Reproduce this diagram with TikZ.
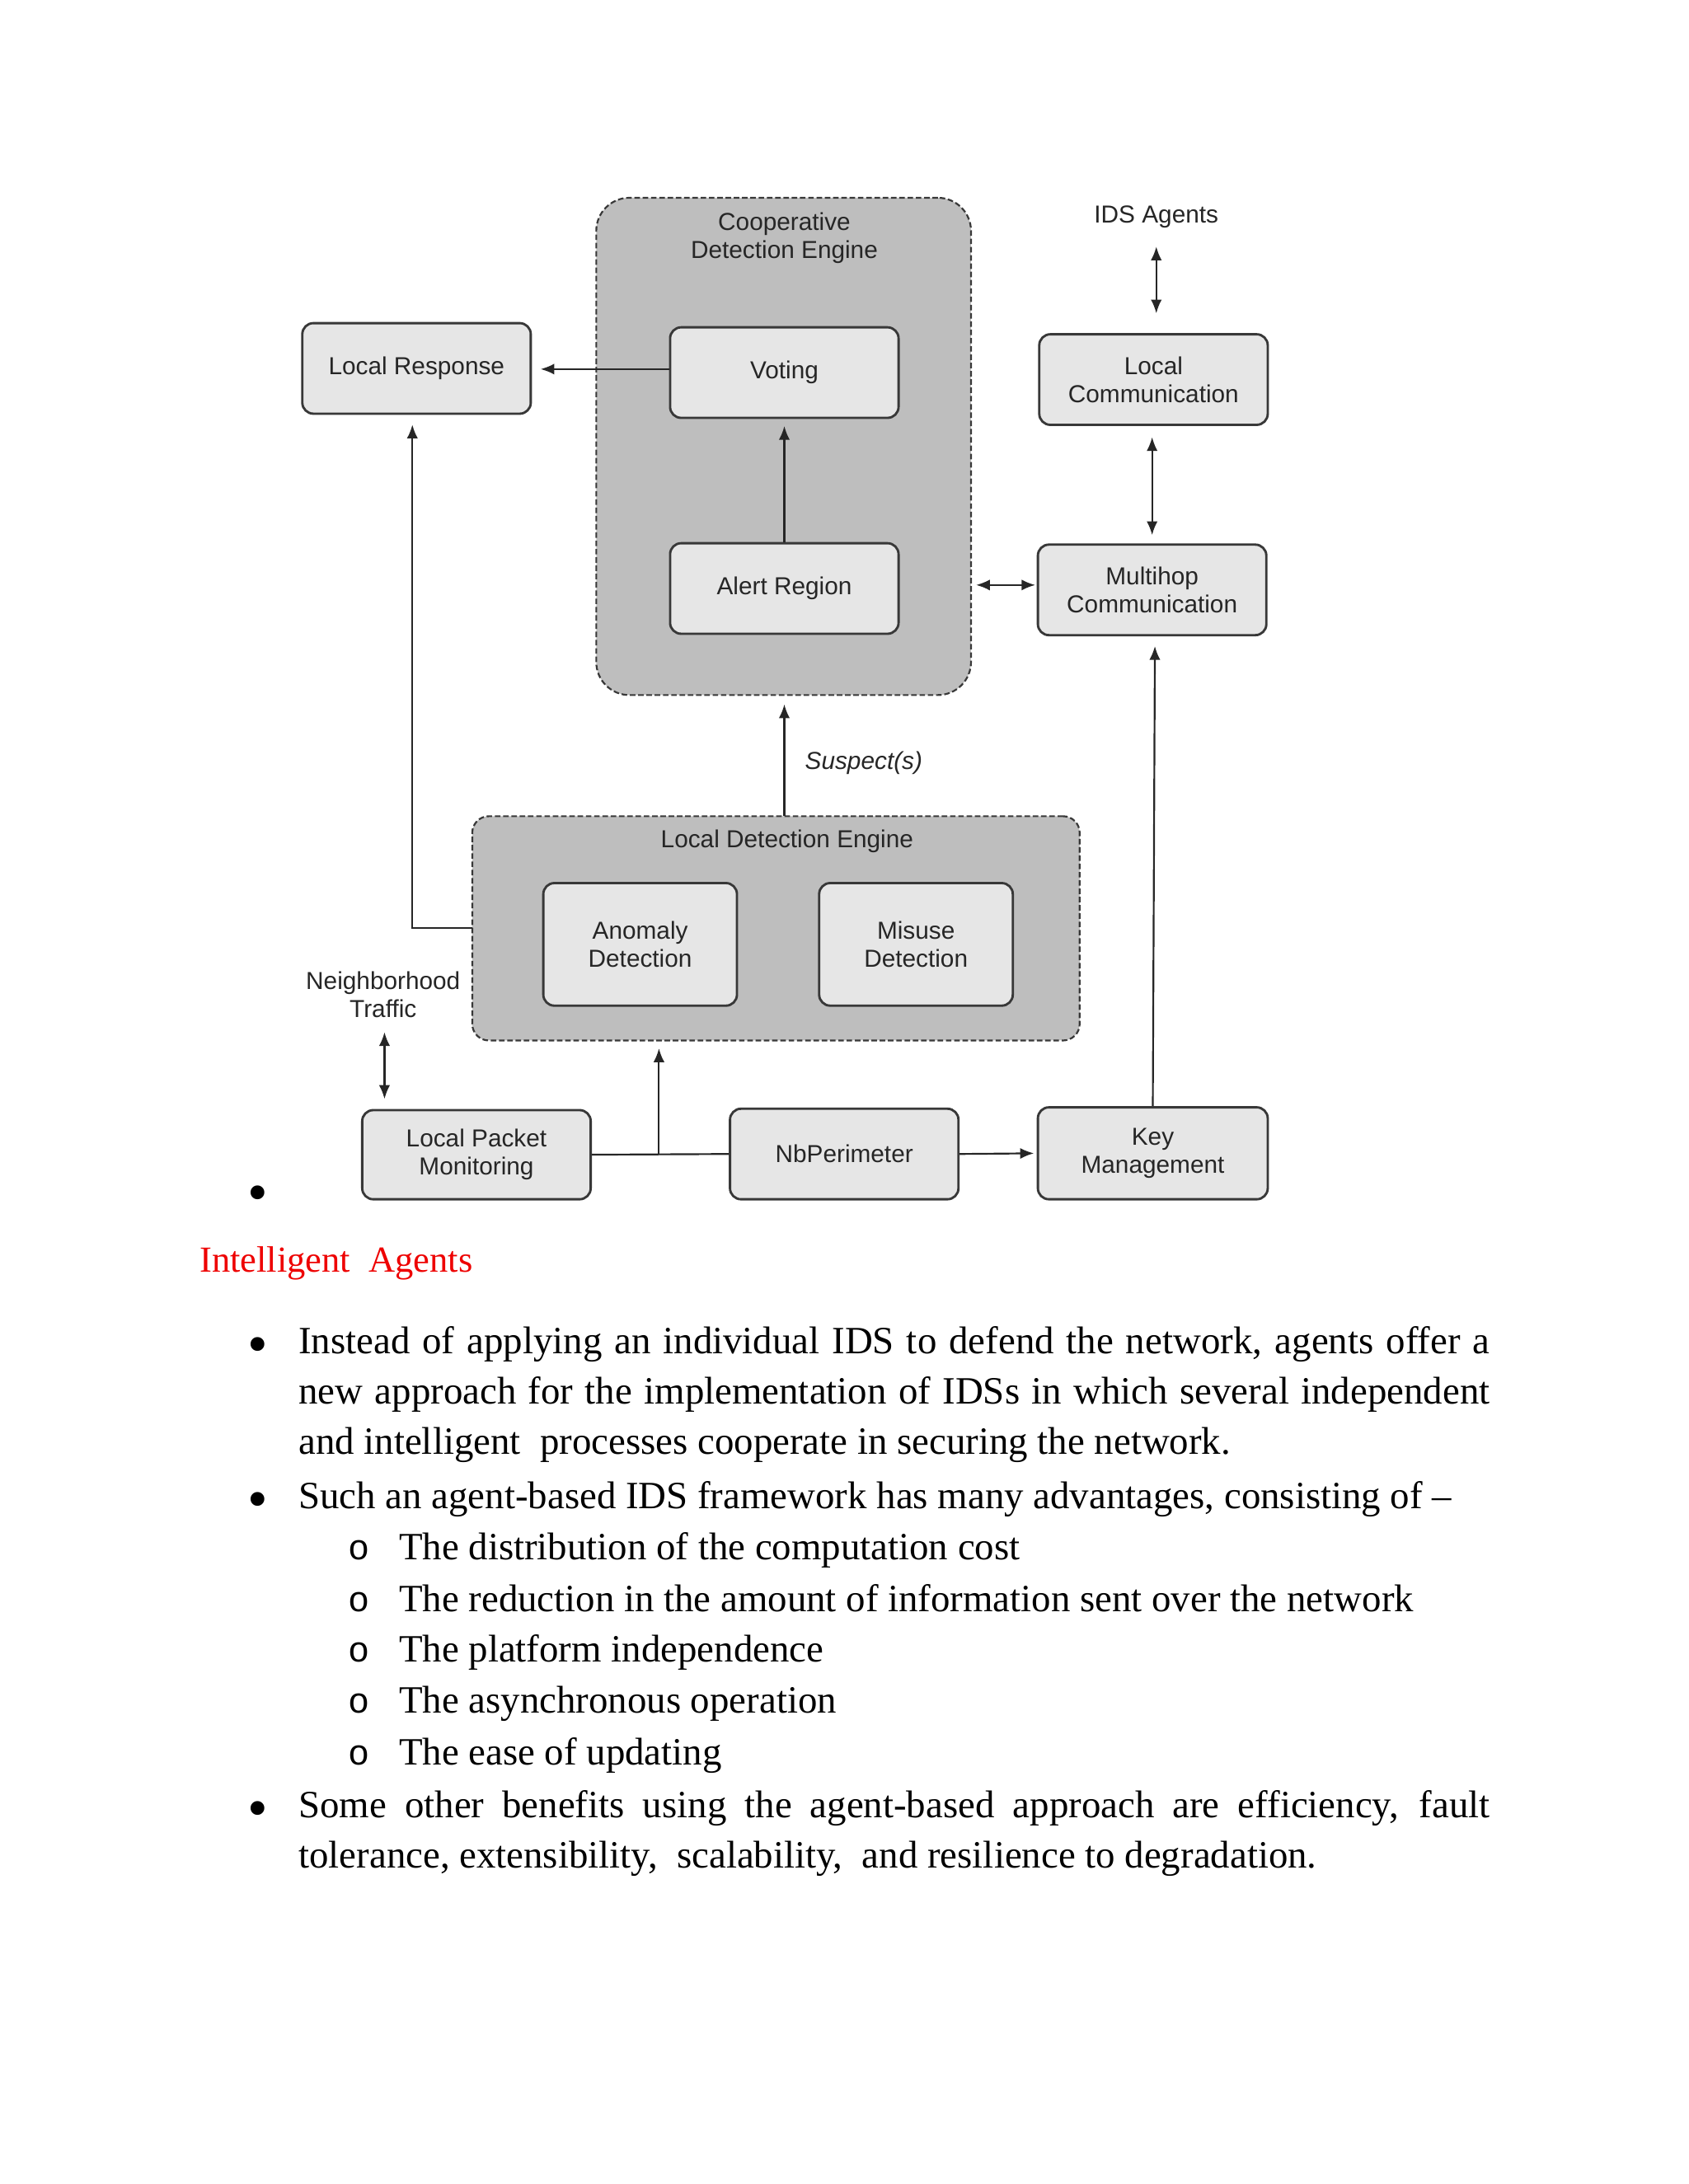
\documentclass[tikz,border=0pt]{standalone}
\usepackage{fontspec}
\setmainfont{Liberation Serif}
\newfontfamily\diagfont{Liberation Sans}
\newfontfamily\monofont{Liberation Mono}
\usetikzlibrary{arrows.meta,calc}
\definecolor{boxfill}{HTML}{E6E6E6}
\definecolor{outerfill}{HTML}{BEBEBE}
\definecolor{edgecol}{HTML}{383838}
\definecolor{headred}{HTML}{EE0000}
\begin{document}
\begin{tikzpicture}[x=0.505pt,y=-0.505pt,
  wh/.style 2 args={minimum width=#1*0.505pt, minimum height=#2*0.505pt},
  dfont/.style={font=\diagfont\fontsize{8.9}{10.1}\selectfont},
  box/.style={draw=edgecol, line width=0.85pt, fill=boxfill, rounded corners=4pt, align=center, inner sep=0pt, dfont, text=black!85},
  outer/.style={draw=edgecol, dash pattern=on 2pt off 1pt, line width=0.65pt, fill=outerfill, inner sep=0pt},
  lab/.style={align=center, inner sep=0pt, dfont, text=black!85},
  arr/.style={-{Latex[length=5pt,width=4pt]}, line width=0.65pt, draw=black!85},
  dbl/.style={{Latex[length=5pt,width=4pt]}-{Latex[length=5pt,width=4pt]}, line width=0.65pt, draw=black!85},
  body/.style={anchor=base west, inner sep=0pt, font=\fontsize{14}{18}\selectfont},
  bul/.style={anchor=base, inner sep=0pt, font=\fontsize{21}{21}\selectfont},
  subbul/.style={anchor=base, inner sep=0pt, font=\monofont\fontsize{13}{18}\selectfont},
]
\useasboundingbox[fill=white] (0,0) rectangle (1212,1568);

% ---------- outer engines ----------
\node[outer, rounded corners=12pt, wh={269}{357}] (cde) at (562.5,320.5) {};
\node[lab] (cdet) at (563,171) {Cooperative\\Detection Engine};
\node[outer, rounded corners=6pt, wh={436}{161}] (lde) at (557,666.5) {};
\node[lab] (ldet) at (565,604) {Local Detection Engine};

% ---------- boxes ----------
\node[box, wh={164}{65}] (lr) at (299,264.5) {Local Response};
\node[box, wh={164}{65}] (vot) at (563,267.5) {Voting};
\node[box, wh={164}{65}] (alr) at (563,422.5) {Alert Region};
\node[box, wh={164}{65}] (lcom) at (828,272.5) {Local\\Communication};
\node[box, wh={164}{65}] (mhop) at (827,423.5) {Multihop\\Communication};
\node[box, wh={139}{88}] (ano) at (459.5,678) {Anomaly\\Detection};
\node[box, wh={139}{88}] (mis) at (657.5,678) {Misuse\\Detection};
\node[box, wh={164}{64}] (lpm) at (342,829) {Local Packet\\Monitoring};
\node[box, wh={164}{65}] (nbp) at (606,828.5) {NbPerimeter};
\node[box, wh={165}{66}] (key) at (827.5,828) {Key\\Management};

% ---------- labels ----------
\node[lab] (ids) at (830,156) {IDS Agents};
\node[lab, font=\diagfont\itshape\fontsize{8.9}{10.1}\selectfont] (susp) at (620,548) {Suspect(s)};
\node[lab] (nbt) at (275,714) {Neighborhood\\Traffic};

% ---------- coordinates ----------
\coordinate (idsA) at (830,177);
\coordinate (idsB) at (830,225);
\coordinate (nbtA) at (276,741);
\coordinate (nbtB) at (276,789);
\coordinate (j) at (473,829);
\coordinate (ldeL) at (339,666);
\coordinate (ldeT) at (563,586);

% ---------- connectors ----------
\draw[arr] (alr.north) -- ($(vot.south)+(0,5)$);
\draw[arr] (vot.west |- 0,265) -- (388,265);
\draw[arr] (ldeL) -| ($(lr.south)+(-3,7)$);
\draw[arr] (ldeT) -- ($(cde.south)+(0.5,6)$);
\draw[dbl] ($(cde.east)+(3,99.5)$) -- ($(mhop.west)+(-1,-3.5)$);
\draw[dbl] ($(lcom.south)+(-1,8)$) -- ($(mhop.north)+(0,-6)$);
\draw[dbl] (idsA) -- (idsB);
\draw[arr] (key.north) -- ($(mhop.south)+(2,7)$);
\draw[line width=0.65pt, draw=black!85] (lpm.east) -- (nbp.west);
\draw[arr] (j) -- ($(lde.south)+(-84,5)$);
\draw[arr] (nbp.east) -- ($(key.west)+(-2,0)$);
\draw[dbl] (nbtA) -- (nbtB);

% ---------- stray bullet ----------
\node[bul] (b0) at (185,870) {\textbullet};

% ---------- text ----------
\node[body, font=\fontsize{13.3}{16}\selectfont, text=headred] (head) at (143,913) {Intelligent\ \ Agents};

\node[bul] (b1) at (185,979) {\textbullet};
\node[body] (t1) at (214,972) {\makebox[431.8pt][s]{Instead of applying an individual IDS to defend the network, agents offer a}};
\node[body] (t2) at (214,1008) {\makebox[431.8pt][s]{new approach for the implementation of IDSs in which several independent}};
\node[body] (t3) at (214,1044) {and intelligent\ \ processes cooperate in securing the network.};

\node[bul] (b2) at (185,1090) {\textbullet};
\node[body] (t4) at (214,1083) {Such an agent-based IDS framework has many advantages, consisting of –};

\node[subbul] (o1) at (258,1120) {o};
\node[body] (s1) at (286,1120) {The distribution of the computation cost};
\node[subbul] (o2) at (258,1157) {o};
\node[body] (s2) at (286,1157) {The reduction in the amount of information sent over the network};
\node[subbul] (o3) at (258,1193) {o};
\node[body] (s3) at (286,1193) {The platform independence};
\node[subbul] (o4) at (258,1230) {o};
\node[body] (s4) at (286,1230) {The asynchronous operation};
\node[subbul] (o5) at (258,1267) {o};
\node[body] (s5) at (286,1267) {The ease of updating};

\node[bul] (b3) at (185,1312) {\textbullet};
\node[body] (t5) at (214,1305) {\makebox[431.8pt][s]{Some other benefits using the agent-based approach are efficiency, fault}};
\node[body] (t6) at (214,1341) {tolerance, extensibility,\ \ scalability,\ \ and resilience to degradation.};
\end{tikzpicture}
\end{document}
